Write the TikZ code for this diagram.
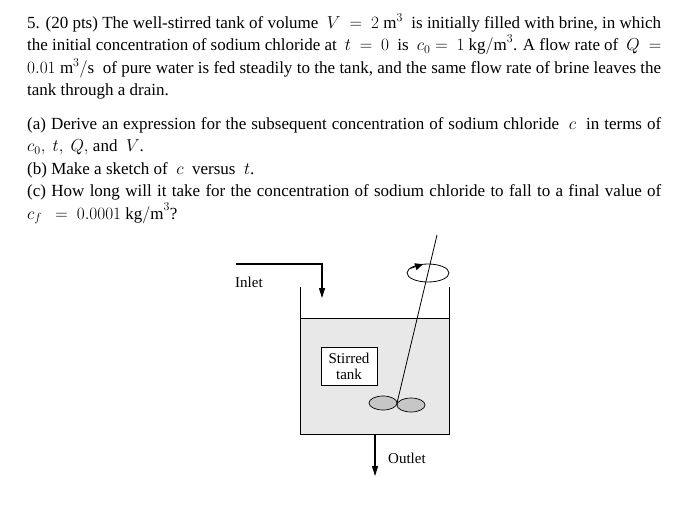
\documentclass[tikz,border=0pt]{standalone}
\usepackage{fontspec}
\setmainfont{Liberation Serif}
\usetikzlibrary{arrows.meta}
\begin{document}
\begin{tikzpicture}[x=1pt,y=-1pt,
  txt/.style={font=\fontsize{17}{22.5}\selectfont, align=justify, text width=634pt, inner sep=0pt, anchor=north west},
  lbl/.style={font=\fontsize{15}{16}\selectfont, inner sep=1pt},
  arr/.style={-{Triangle[length=10pt,width=6pt]}, line width=1.1pt}]
\useasboundingbox (0,0) rectangle (700,514);
\node[txt] (p1) at (27,14) {5. (20 pts) The well-stirred tank of volume \ $V\ =\ 2\ \mathrm{m}^3$ \ is initially filled with brine, in which\linebreak the initial concentration of sodium chloride at \ $t\ =\ 0$ \ is \ $c_0 =\ 1\ \mathrm{kg/m}^3$. A flow rate of \ $Q\ =$\linebreak $0.01\ \mathrm{m}^3/\mathrm{s}$ \ of pure water is fed steadily to the tank, and the same flow rate of brine leaves the\linebreak tank through a drain.};
\node[txt] (p2) at (27,117) {(a) Derive an expression for the subsequent concentration of sodium chloride \ $c$ \ in terms of\linebreak $c_0,\ t,\ Q,$ and \ $V$.\\
(b) Make a sketch of \ $c$ \ versus \ $t$.\\
(c) How long will it take for the concentration of sodium chloride to fall to a final value of\linebreak $c_f\ \ =\ 0.0001\ \mathrm{kg/m}^3$?};
% tank
\fill[gray!18] (300,318) rectangle (449,434);
\draw[line width=0.8pt] (300,287) -- (300,434) -- (449,434) -- (449,287);
\draw[line width=0.8pt] (300,318) -- (449,318);
\node[draw, fill=white, line width=0.8pt, minimum width=56pt, minimum height=38pt, lbl, align=center] (box) at (349,366) {Stirred\\tank};
% inlet
\coordinate (in0) at (236,264);
\coordinate (in1) at (322,264);
\coordinate (in2) at (322,298);
\draw[arr] (in0) -- (in1) -- (in2);
\node[lbl, anchor=west] (inl) at (234,282) {Inlet};
% outlet
\coordinate (o0) at (375,434);
\coordinate (o1) at (375,476);
\draw[arr] (o0) -- (o1);
\node[lbl, anchor=west] (outl) at (387,458) {Outlet};
% stirrer
\draw[fill=gray!45, line width=0.7pt] (383,403) ellipse (14 and 7);
\draw[fill=gray!45, line width=0.7pt] (411,405) ellipse (14 and 7);
\coordinate (s0) at (437,235);
\coordinate (s1) at (397,403);
\draw[line width=0.8pt] (s0) -- (s1);
\draw[line width=0.8pt] (428,273) ellipse (21 and 9);
\draw[-{Triangle[length=8pt,width=7pt]}, line width=0.8pt] (410,268.5) -- (423,264.2);
\end{tikzpicture}
\end{document}
